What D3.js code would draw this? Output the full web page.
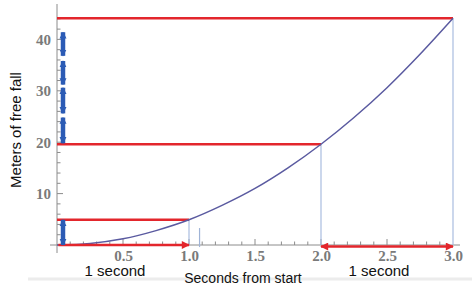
<!DOCTYPE html>
<html>
<head>
<meta charset="utf-8">
<script src="https://cdn.jsdelivr.net/npm/d3@7"></script>
<style>
  body { margin: 0; background: #fff; }
  .tick text { font-family: "Liberation Serif", serif; font-weight: bold; fill: #7a7a7a; font-size: 15px; }
  .axis path, .axis line { stroke: #8c8c8c; }
  .lbl { font-family: "Liberation Sans", sans-serif; fill: #111; }
</style>
</head>
<body>
<div id="chart"></div>
<script>
// data
var curveT = [0, 0.25, 0.5, 0.75, 1, 1.25, 1.5, 1.75, 2, 2.25, 2.5, 2.75, 3];
var curveD = [0, 0.3, 1.2, 2.8, 4.9, 7.7, 11.0, 15.0, 19.6, 24.8, 30.6, 37.1, 44.1];
var marks = [1, 2, 3];            // seconds where the drop is marked
var markD = [4.9, 19.6, 44.1];    // meters at those seconds
var arrowLo = [0, 19.8, 25.6, 31.2, 36.8];
var arrowHi = [4.9, 24.8, 30.6, 35.8, 41.4];
var xTicks = [0.5, 1.0, 1.5, 2.0, 2.5, 3.0];
var yTicks = [10, 20, 30, 40];

var width = 474, height = 288;

var x = d3.scaleLinear().domain([0, 3]).range([57, 453]);
var y = d3.scaleLinear().domain([0, 40]).range([245, 39.4]);

var svg = d3.select("#chart").append("svg")
  .attr("width", width)
  .attr("height", height);

var defs = svg.append("defs");
function marker(id, color, w, h) {
  defs.append("marker")
    .attr("id", id)
    .attr("viewBox", "0 0 10 10")
    .attr("refX", 9).attr("refY", 5)
    .attr("markerWidth", w).attr("markerHeight", h)
    .attr("markerUnits", "userSpaceOnUse")
    .attr("orient", "auto-start-reverse")
  .append("path")
    .attr("d", "M0,0 L10,5 L0,10 Z")
    .attr("fill", color);
}
marker("redHead", "#e3262c", 9, 8);
marker("blueHead", "#2b5bb5", 7, 11);

// faint shadow under the plot
svg.append("line")
  .attr("x1", 28).attr("x2", 472)
  .attr("y1", 279).attr("y2", 279)
  .attr("stroke", "#ececec").attr("stroke-width", 3);

// axes
var xAxis = svg.append("g")
  .attr("class", "axis")
  .attr("transform", "translate(0," + y(0) + ")")
  .call(d3.axisBottom(x).tickValues(xTicks).tickFormat(d3.format(".1f")).tickSize(0).tickPadding(5));
xAxis.select(".domain").attr("d", "M50,0H460");
xAxis.selectAll(".minor")
  .data(d3.range(1, 30).map(function(i) { return i / 10; }))
  .enter().append("line")
  .attr("x1", function(d) { return x(d); }).attr("x2", function(d) { return x(d); })
  .attr("y1", 0).attr("y2", function(d) { return (Math.round(d * 10) % 5 == 0) ? -6 : -3.5; })
  .attr("stroke", "#8c8c8c");

var yAxis = svg.append("g")
  .attr("class", "axis")
  .attr("transform", "translate(" + x(0) + ",0)")
  .call(d3.axisLeft(y).tickValues(yTicks).tickSize(0).tickPadding(6));
yAxis.select(".domain").attr("d", "M0,4V253");
yAxis.selectAll(".minor")
  .data(d3.range(2, 46, 2))
  .enter().append("line")
  .attr("y1", function(d) { return y(d); }).attr("y2", function(d) { return y(d); })
  .attr("x1", 0).attr("x2", function(d) { return d % 10 == 0 ? 6 : 3.5; })
  .attr("stroke", "#8c8c8c");

// vertical drop lines
svg.selectAll(".drop")
  .data(marks)
  .enter().append("line")
  .attr("x1", function(d) { return x(d); }).attr("x2", function(d) { return x(d); })
  .attr("y1", y(0)).attr("y2", function(d, i) { return y(markD[i]); })
  .attr("stroke", "#a9bde0").attr("stroke-width", 1.2);

// stray tick past 1.0
svg.append("line")
  .attr("x1", x(1.08)).attr("x2", x(1.08))
  .attr("y1", y(3.3)).attr("y2", y(-0.4))
  .attr("stroke", "#9fb3d6").attr("stroke-width", 1.2);

// horizontal red level lines
svg.selectAll(".level")
  .data(marks)
  .enter().append("line")
  .attr("x1", x(0)).attr("x2", function(d) { return x(d); })
  .attr("y1", function(d, i) { return y(markD[i]); })
  .attr("y2", function(d, i) { return y(markD[i]); })
  .attr("stroke", "#e3262c").attr("stroke-width", 2.5);

// fall curve
var line = d3.line()
  .x(function(d) { return x(d); })
  .y(function(d, i) { return y(curveD[i]); })
  .curve(d3.curveMonotoneX);
svg.append("path")
  .datum(curveT)
  .attr("d", line)
  .attr("fill", "none")
  .attr("stroke", "#5a5aa0")
  .attr("stroke-width", 1.5);

// red time arrows on the x axis
svg.append("line")
  .attr("x1", x(0.01)).attr("x2", x(1))
  .attr("y1", y(0)).attr("y2", y(0))
  .attr("stroke", "#e3262c").attr("stroke-width", 2.5)
  .attr("marker-end", "url(#redHead)");
svg.append("line")
  .attr("x1", x(2)).attr("x2", x(3))
  .attr("y1", y(0) + 1.5).attr("y2", y(0) + 1.5)
  .attr("stroke", "#e3262c").attr("stroke-width", 2.5)
  .attr("marker-start", "url(#redHead)")
  .attr("marker-end", "url(#redHead)");

// blue distance arrows along the y axis
svg.selectAll(".darrow")
  .data(arrowLo)
  .enter().append("line")
  .attr("x1", 63).attr("x2", 63)
  .attr("y1", function(d) { return y(d); })
  .attr("y2", function(d, i) { return y(arrowHi[i]); })
  .attr("stroke", "#2b5bb5").attr("stroke-width", 4.5)
  .attr("marker-start", "url(#blueHead)")
  .attr("marker-end", "url(#blueHead)");

// labels
svg.append("text")
  .attr("class", "lbl")
  .attr("transform", "translate(21,130) rotate(-90)")
  .attr("text-anchor", "middle")
  .style("font-size", "15px")
  .text("Meters of free fall");

svg.append("text")
  .attr("class", "lbl")
  .attr("x", 243).attr("y", 283)
  .attr("text-anchor", "middle")
  .style("font-size", "14px")
  .text("Seconds from start");

svg.selectAll(".sec")
  .data([0.5, 2.5])
  .enter().append("text")
  .attr("class", "lbl")
  .attr("x", function(d) { return x(d) - 8; })
  .attr("y", 276)
  .attr("text-anchor", "middle")
  .style("font-size", "15px")
  .text("1 second");
</script>
</body>
</html>
